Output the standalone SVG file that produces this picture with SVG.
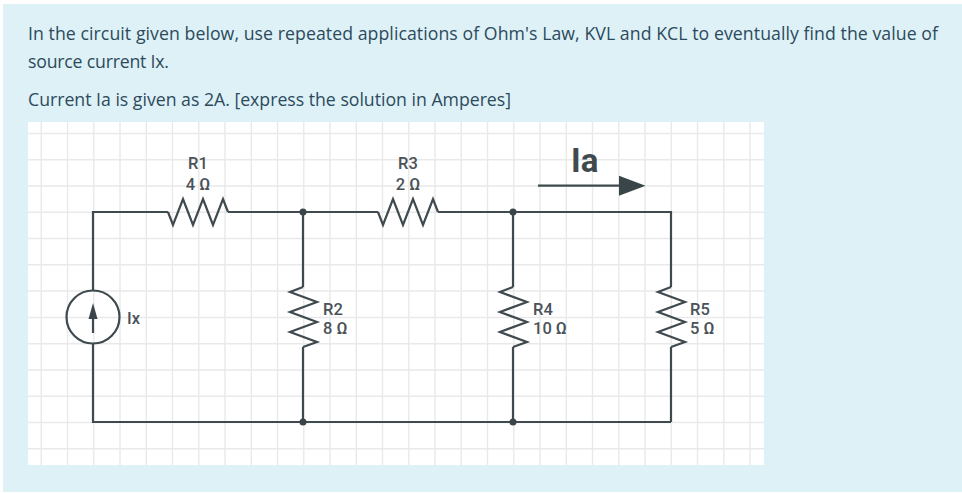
<svg xmlns="http://www.w3.org/2000/svg" width="962" height="493" viewBox="0 0 962 493">
<style>
.q{font-family:"Open Sans","DejaVu Sans",sans-serif;font-size:17.7px;fill:#2c4a5c}
.l{font-family:Roboto,"Liberation Sans",sans-serif;font-size:16.5px;font-weight:500;fill:#4a5258}
.w{fill:none;stroke:#3f4a4f;stroke-width:2.2}
.g{stroke:#e9e9e9;stroke-width:1.4}
.d{fill:#3a4549}
</style>
<rect x="0" y="0" width="962" height="493" fill="#fff"/>
<rect x="3" y="4" width="959" height="488" fill="#def1f7"/>
<text class="q" x="28" y="39.500" textLength="910" lengthAdjust="spacing">In the circuit given below, use repeated applications of Ohm's Law, KVL and KCL to eventually find the value of</text>
<text class="q" x="28" y="67.500" textLength="141" lengthAdjust="spacing">source current Ix.</text>
<text class="q" x="28" y="106" textLength="483" lengthAdjust="spacing">Current Ia is given as 2A. [express the solution in Amperes]</text>
<rect x="28" y="122" width="736" height="343" fill="#fff"/>
<g id="grid">
<path class="g" d="M41.3 122V465M67.5 122V465M93.8 122V465M120 122V465M146.3 122V465M172.5 122V465M198.8 122V465M225 122V465M251.3 122V465M277.5 122V465M303.8 122V465M330 122V465M356.3 122V465M382.5 122V465M408.8 122V465M435 122V465M461.3 122V465M487.5 122V465M513.8 122V465M540 122V465M566.3 122V465M592.5 122V465M618.8 122V465M645 122V465M671.3 122V465M697.5 122V465M723.8 122V465M750 122V465"/>
<path class="g" d="M28 133.5H764M28 159.8H764M28 186H764M28 212.3H764M28 238.5H764M28 264.8H764M28 291H764M28 317.5H764M28 343.8H764M28 370H764M28 396.3H764M28 422.5H764M28 448.8H764"/>
</g>
<g id="connectors">
<path class="w" d="M93 290.5V212H168M228 212H303H378M438 212H513H671V287M303 212V287M513 212V287M303 347V422M513 347V422M671 347V422M93 343.500V422H671"/>
</g>
<g id="R1"><path class="w" d="M168 212L173 225L183 199L193 225L203 199L213 225L223 199L228 212"/><text class="l" x="198" y="169" text-anchor="middle">R1</text><text class="l" x="198" y="189.500" text-anchor="middle">4 Ω</text></g>
<g id="R3"><path class="w" d="M378 212L383 225L393 199L403 225L413 199L423 225L433 199L438 212"/><text class="l" x="408" y="169" text-anchor="middle">R3</text><text class="l" x="408" y="189.500" text-anchor="middle">2 Ω</text></g>
<g id="R2"><path class="w" d="M303 287L290 292L317 302L290 312L317 322L290 332L317 342L303 347"/><text class="l" x="323" y="315">R2</text><text class="l" x="323" y="334">8 Ω</text></g>
<g id="R4"><path class="w" d="M513 287L500 292L527 302L500 312L527 322L500 332L527 342L513 347"/><text class="l" x="533" y="315">R4</text><text class="l" x="533" y="334">10 Ω</text></g>
<g id="R5"><path class="w" d="M671 287L658 292L685 302L658 312L685 322L658 332L685 342L671 347"/><text class="l" x="690" y="315">R5</text><text class="l" x="690" y="334">5 Ω</text></g>
<g id="Ix"><circle class="w" cx="93" cy="317" r="26.500"/><path class="w" d="M93 333V315"/><path class="d" d="M93 303L97.500 319H88.500Z"/><text class="l" x="127" y="324">Ix</text></g>
<g id="Ia"><path class="w" d="M538 185.700H620"/><path class="d" d="M619 175.700L645.500 185.700L619 195.700Z"/><text x="571" y="171.500" font-family="Roboto,'Liberation Sans',sans-serif" font-size="33" font-weight="700" fill="#3f4a4f">Ia</text></g>
<g id="junctions"><circle class="d" cx="303" cy="212" r="3.500"/><circle class="d" cx="513" cy="212" r="3.500"/><circle class="d" cx="303" cy="422" r="3.500"/><circle class="d" cx="513" cy="422" r="3.500"/></g>
</svg>
